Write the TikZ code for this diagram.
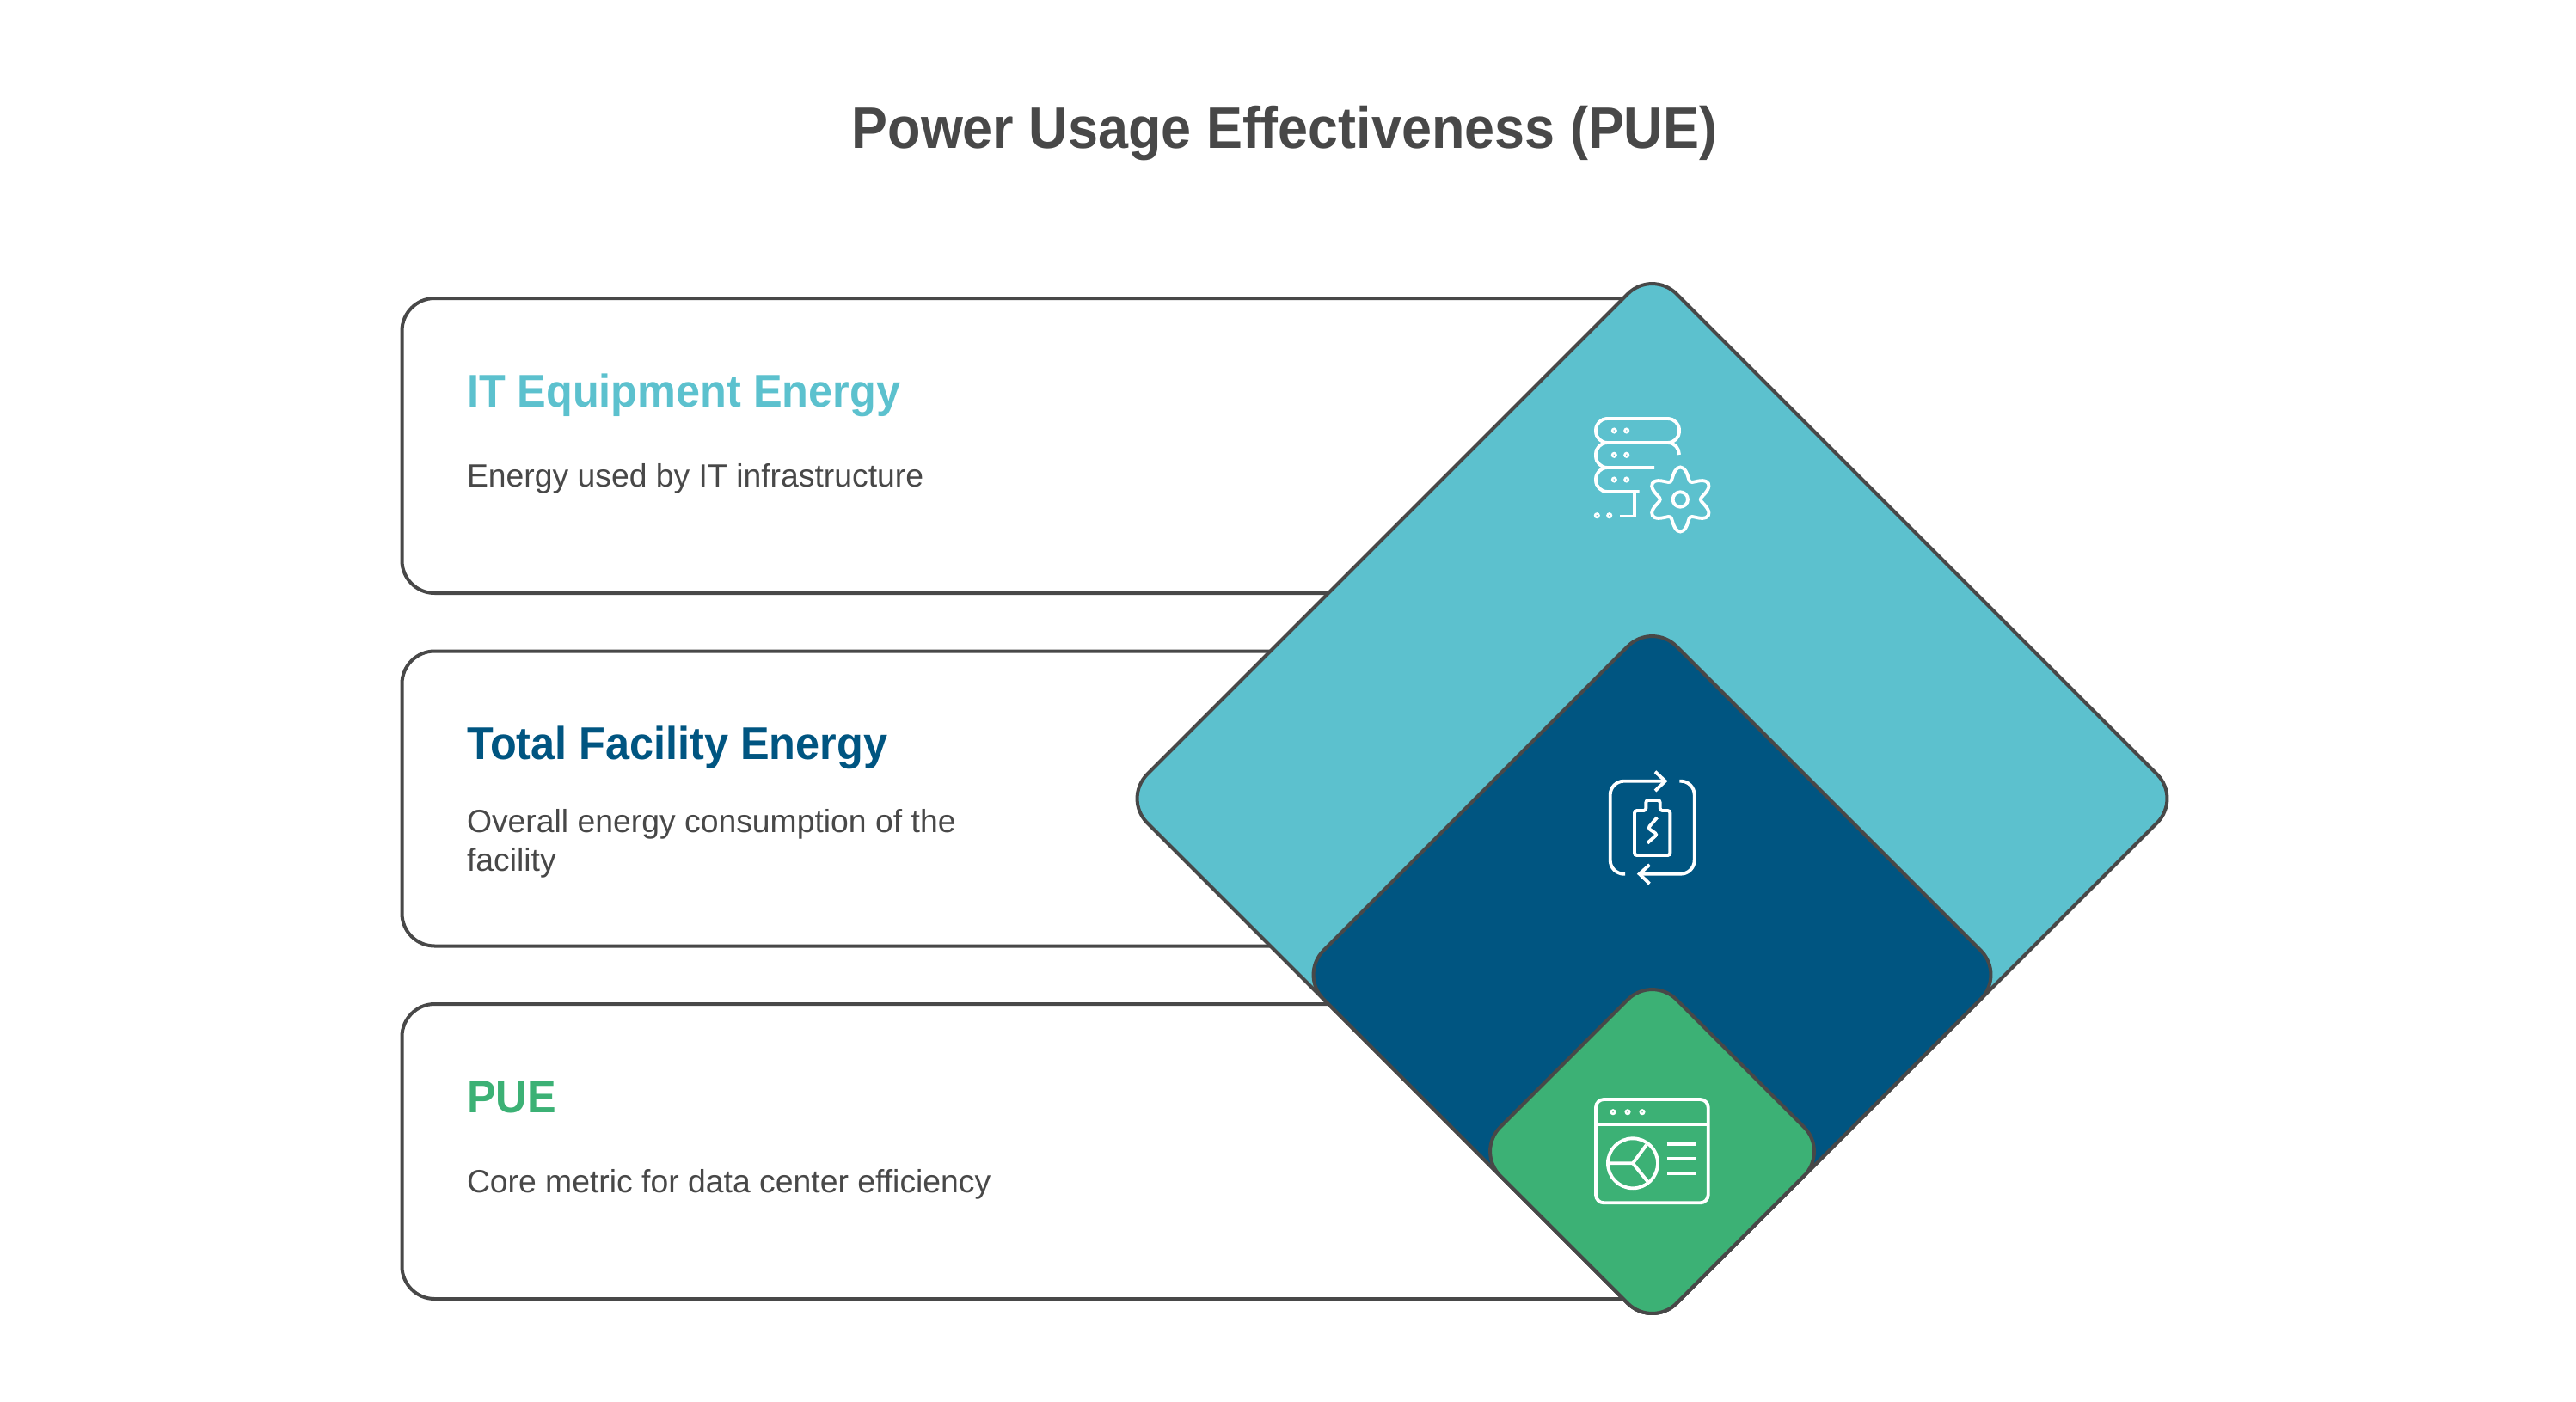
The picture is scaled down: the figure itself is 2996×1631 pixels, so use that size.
\documentclass[tikz,border=0pt]{standalone}
\usepackage{fontspec}
\setmainfont{Liberation Sans}
\newfontfamily\titlefont{Liberation Sans}[FakeStretch=0.925]
\newfontfamily\headfont{Liberation Sans}[FakeStretch=0.945]
\definecolor{inkgray}{HTML}{484848}
\definecolor{tealfill}{HTML}{5CC1CE}
\definecolor{navyfill}{HTML}{005581}
\definecolor{greenfill}{HTML}{3CB175}
\tikzset{every picture/.style={line width=3pt}}
\tikzset{
	cardbox/.style={draw=inkgray,fill=white,rounded corners=28.5pt},
	rhomb/.style={draw=inkgray,rounded corners=30pt},
	iconline/.style={draw=white,line width=2.9pt},
	icondot/.style={draw=white,line width=1.9pt},
	titletext/.style={inner sep=0pt,anchor=base,text=inkgray,font=\titlefont\fontsize{51}{60}\selectfont\bfseries},
	headtext/.style={inner sep=0pt,anchor=base west,font=\headfont\fontsize{40}{48}\selectfont\bfseries},
	bodytext/.style={inner sep=0pt,anchor=base west,text=inkgray,font=\fontsize{28}{33.5}\selectfont,align=left}
}

\begin{document}
\begin{tikzpicture}[x=0.75pt,y=0.75pt,yscale=-1,xscale=1]
	\useasboundingbox (0,0) rectangle (2996,1631);
	%Shape: Rounded Rect
	\draw [cardbox] (467.5,347) rectangle (1921,690);
	%Shape: Rounded Rect
	\draw [cardbox] (467.5,757.5) rectangle (1921,1100.5);
	%Shape: Rounded Rect
	\draw [cardbox] (467.5,1168) rectangle (1921,1511);
	%Shape: Diamond
	\draw [rhomb,fill=tealfill] (1921.5,313.5) -- (2537,929) -- (1921.5,1544.5) -- (1306,929) -- cycle;
	%Shape: Diamond
	\draw [rhomb,fill=navyfill] (1921.5,723.5) -- (2332,1134) -- (1921.5,1544.5) -- (1511,1134) -- cycle;
	%Shape: Diamond
	\draw [rhomb,fill=greenfill] (1921.5,1134.5) -- (2126.5,1339.5) -- (1921.5,1544.5) -- (1716.5,1339.5) -- cycle;

	%Straight Lines
	\draw [iconline,rounded corners=10pt] (1856,487) rectangle (1953,515);
	\draw [iconline] (1940,515) .. controls (1948,515) and (1953,522) .. (1953,529);
	\draw [iconline,rounded corners=10pt] (1870,515) -- (1856,515) -- (1856,544) -- (1924,544);
	\draw [iconline,rounded corners=10pt] (1870,544) -- (1856,544) -- (1856,572) -- (1906.5,572);
	\draw [iconline] (1901,572) -- (1901,600.5) -- (1884,600.5);
	\foreach \px/\py in {1877.3/501,1891.7/501,1877.3/529.3,1891.7/529.3,1877.3/558,1891.7/558,1857.3/599.7,1871.7/599.7}
		\draw [icondot] (\px,\py) circle (2.2);
	\draw [iconline] (1954.3,581) circle (8.7);
	\draw [iconline,shift={(1954.3,581)}] plot [domain=0:360,samples=73,smooth] (\x:{30.5-7*cos(6*\x)}) -- cycle;

	%Straight Lines
	\draw [iconline,rounded corners=12pt] (1890,1016.7) -- (1872.7,1016.7) -- (1872.7,908.7) -- (1936.7,908.7);
	\draw [iconline] (1925,897.7) -- (1936.7,908.7) -- (1925,920);
	\draw [iconline,rounded corners=12pt] (1953.3,908.7) -- (1970.7,908.7) -- (1970.7,1016.7) -- (1906.7,1016.7);
	\draw [iconline] (1918.5,1006) -- (1906.7,1016.7) -- (1918.5,1028);
	\draw [iconline,rounded corners=2pt] (1901,943) -- (1914.3,943) -- (1914.3,931) -- (1930.7,931) -- (1930.7,943) -- (1942.3,943) -- (1942.3,995) -- (1901,995) -- cycle;
	\draw [iconline,rounded corners=2pt] (1927.3,951) -- (1916.7,963.3) -- (1927.3,970.7) -- (1916,980.7);

	%Straight Lines
	\draw [iconline,rounded corners=7pt] (1856,1279) rectangle (1986.7,1399.3);
	\draw [iconline] (1856,1308.3) -- (1986.7,1308.3);
	\foreach \px in {1876,1893,1910}
		\draw [icondot] (\px,1293.7) circle (2.2);
	\draw [iconline] (1899,1353.3) circle (29);
	\draw [iconline] (1870,1353.3) -- (1899,1353.3) -- (1915,1331.7);
	\draw [iconline] (1899,1353.3) -- (1916.7,1375);
	\foreach \py in {1330.7,1347.7,1365}
		\draw [iconline] (1938.7,\py) -- (1972.7,\py);

	% Text Node
	\node [titletext] (title) at (1494,172) {Power Usage Effectiveness (PUE)};
	% Text Node
	\node [headtext,text=tealfill] (ithead) at (541,473) {IT Equipment Energy};
	% Text Node
	\node [bodytext] (itbody) at (541,566) {Energy used by IT infrastructure};
	% Text Node
	\node [headtext,text=navyfill] (totalhead) at (541,883) {Total Facility Energy};
	% Text Node
	\node [bodytext] (totalbody) at (541,1013) {Overall energy consumption of the\\facility};
	% Text Node
	\node [headtext,text=greenfill] (puehead) at (541,1294) {PUE};
	% Text Node
	\node [bodytext] (puebody) at (541,1387) {Core metric for data center efficiency};
\end{tikzpicture}
\end{document}
